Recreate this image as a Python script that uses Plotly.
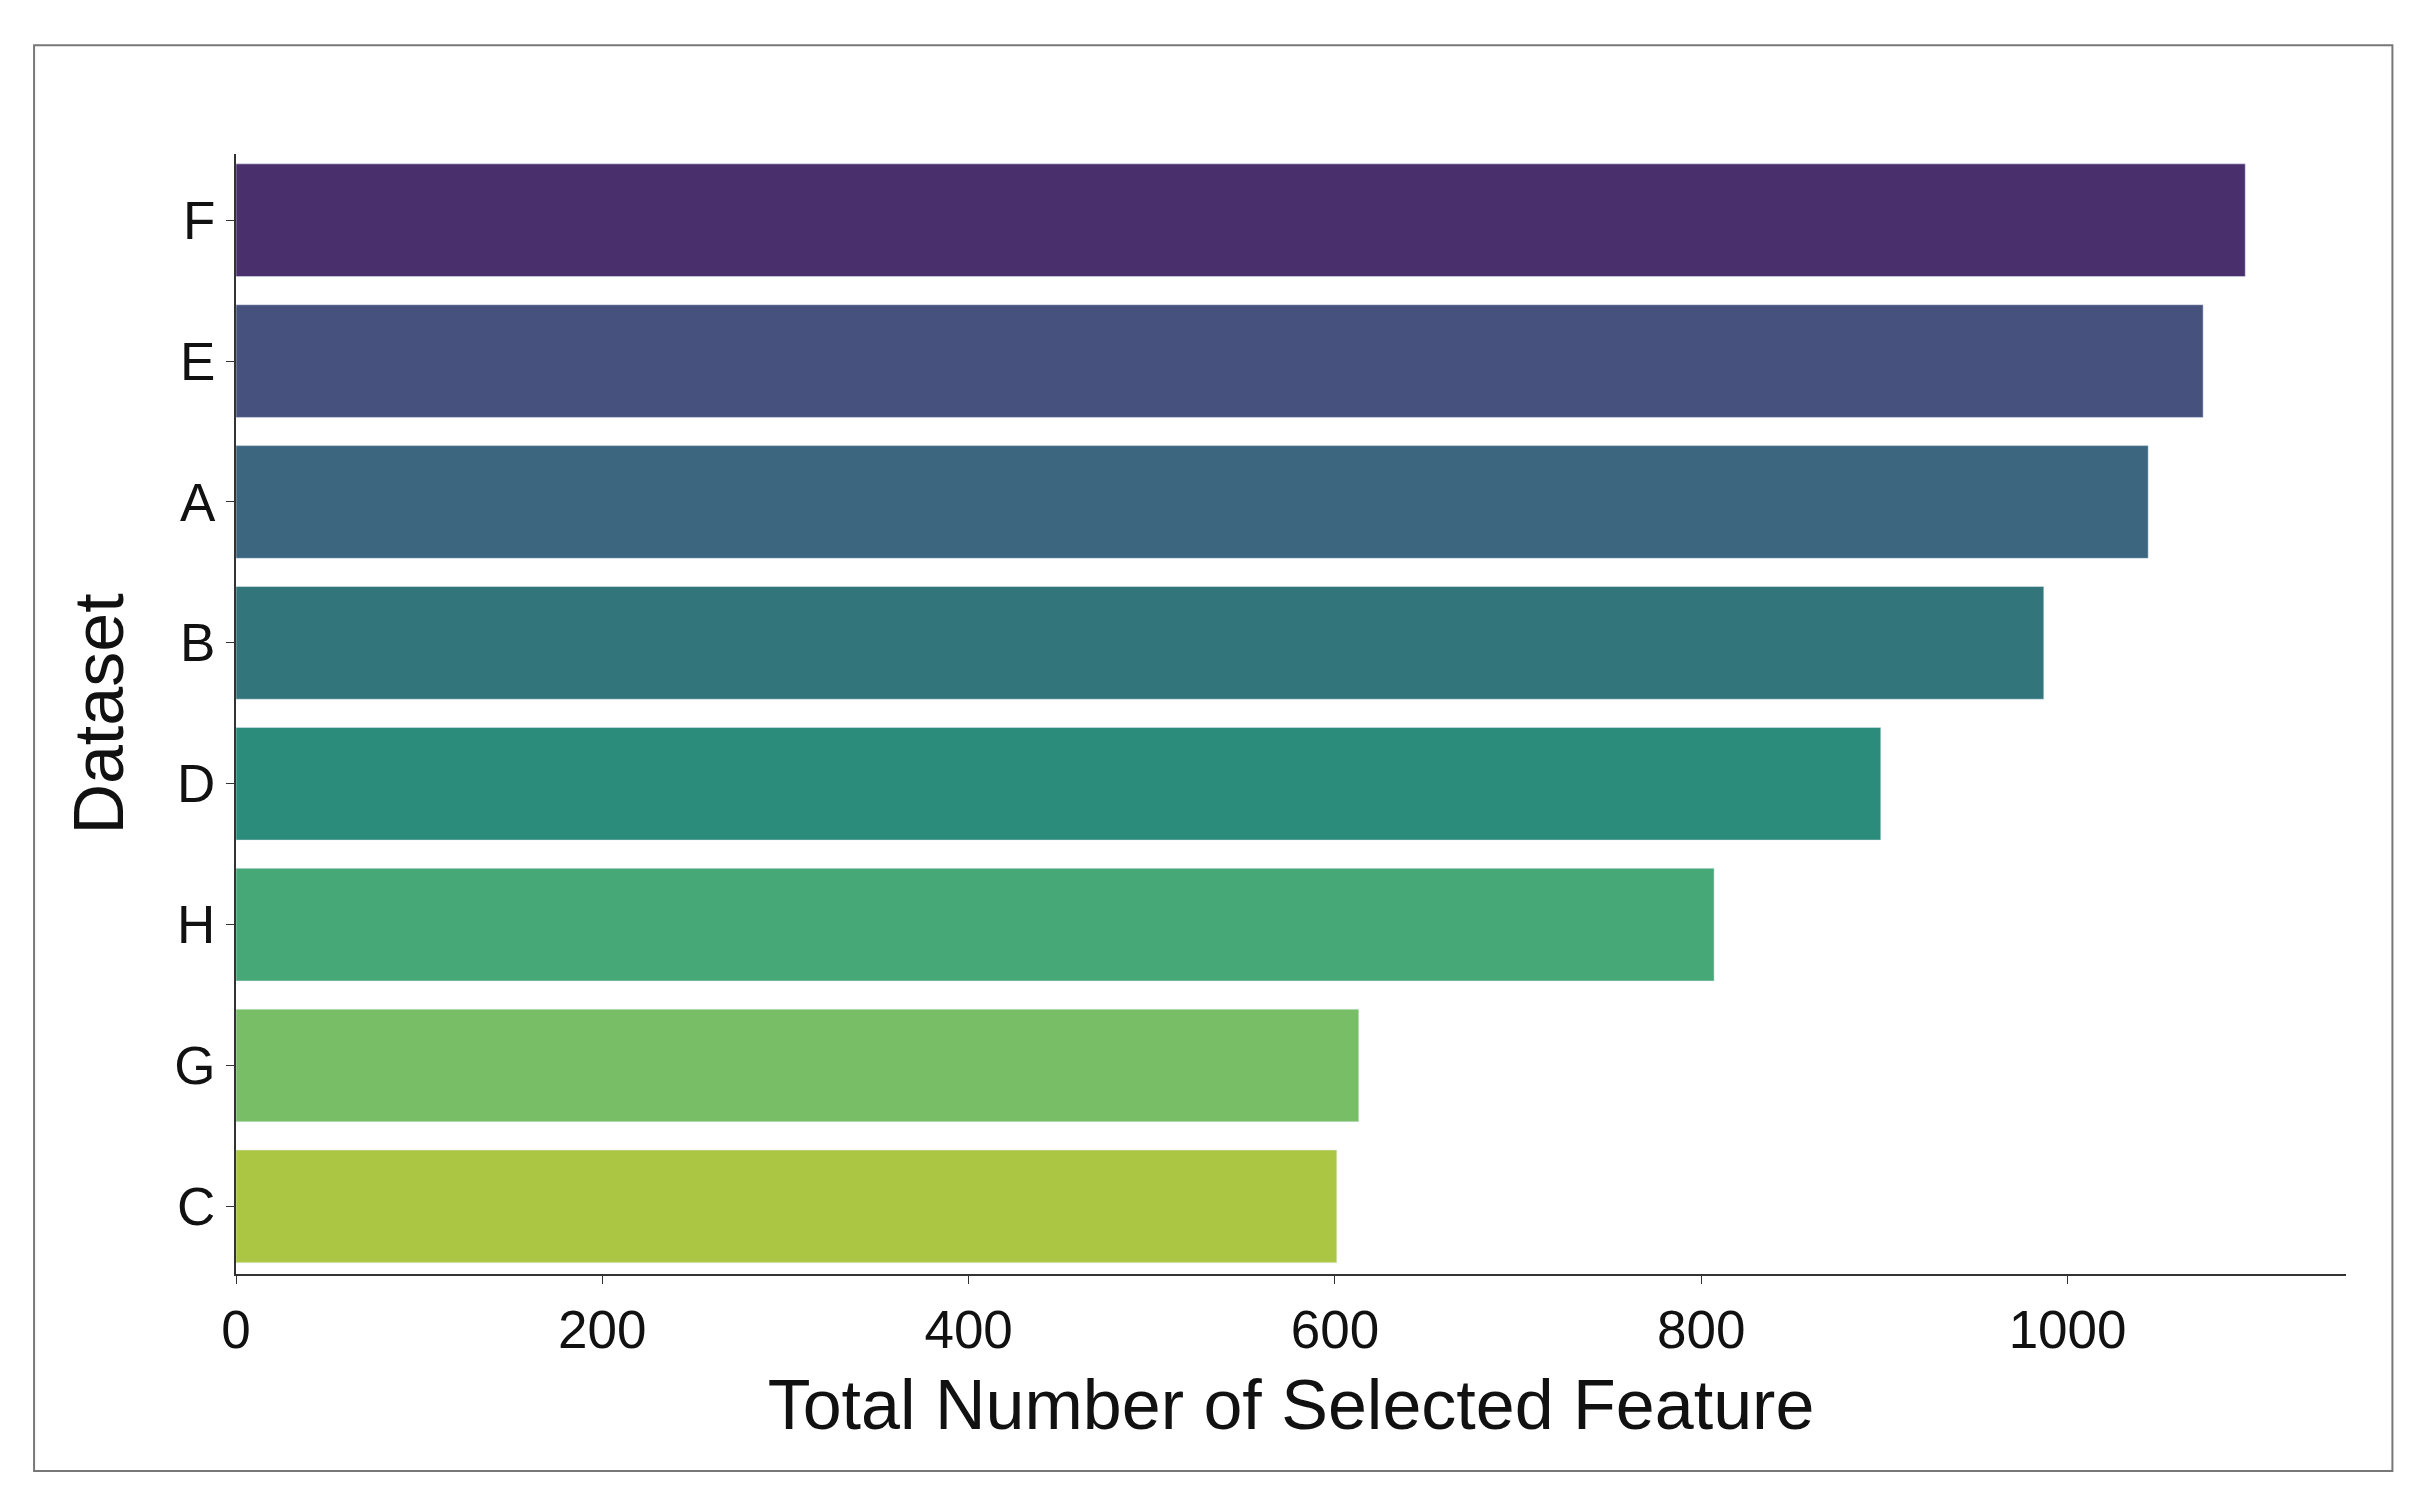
import plotly.graph_objects as go

datasets = ["C", "G", "H", "D", "B", "A", "E", "F"]
values = [601, 613, 807, 898, 987, 1044, 1074, 1097]
colors = ["#abc642", "#78be67", "#46a877", "#2b8c7c", "#32767c", "#3c6680", "#46517d", "#4a2f6d"]

fig = go.Figure(go.Bar(x=values, y=datasets, orientation="h", marker_color=colors, width=0.8))
fig.update_layout(
    width=2414, height=1502, paper_bgcolor="white", plot_bgcolor="white",
    margin=dict(l=228, r=76, t=146, b=236),
    font=dict(family="Liberation Sans", color="#111", size=53),
    showlegend=False,
    shapes=[dict(type="rect", xref="paper", yref="paper", x0=-0.0957, x1=1.022, y0=-0.176, y1=1.097,
                 line=dict(color="#777", width=2))],
)
fig.update_xaxes(range=[0, 1152], tickvals=[0, 200, 400, 600, 800, 1000], showline=True, linecolor="#333",
                 linewidth=2, ticks="outside", ticklen=8, tickcolor="#333", showgrid=False, zeroline=False,
                 title=dict(text="Total Number of Selected Feature", font=dict(size=70), standoff=22))
fig.update_yaxes(range=[-0.48, 7.47], showline=True, linecolor="#333", linewidth=2, ticks="outside", ticklen=8,
                 tickcolor="#333", showgrid=False, title=dict(text="Dataset", font=dict(size=70), standoff=28))
fig.write_html("out.html")
